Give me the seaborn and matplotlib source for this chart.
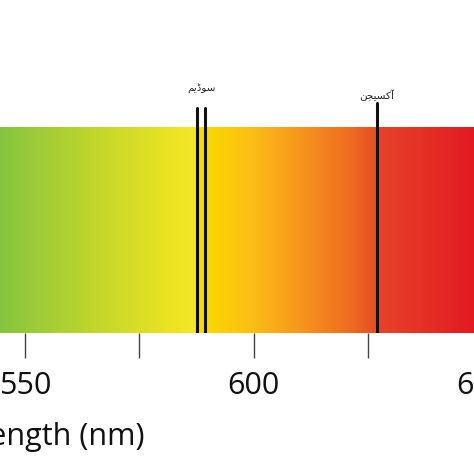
import numpy as np
import pandas as pd
import matplotlib
matplotlib.use("Agg")
import matplotlib.pyplot as plt
import matplotlib.colors as mcolors
import matplotlib.transforms as mtransforms
import seaborn as sns

# visible window of the spectrum (nm)
x_min, x_max = 544.5, 648.2

# gradient colour stops (wavelength, colour); jumps at the emission lines
stop_nm = [544.5, 566.4, 583.9, 587.6, 587.61, 589.4, 599.2, 610.1, 621.1, 627.0, 627.01, 648.2]
stop_col = ["#86c440", "#c5d72b", "#efe521", "#f2e82c", "#fbdc00", "#fcd900",
            "#fbbf14", "#f7961d", "#ef6c21", "#e54e22", "#e8432a", "#e21b22"]

# emission lines
line_nm = [587.6, 589.4, 627.0]
line_top = [1.092, 1.092, 1.117]

# labels (Urdu, written in presentation forms in visual order)
sodium_label = "\uFEE2\uFBFE\uFB88\uFEEE\uFEB3"      # سوڈیم
oxygen_label = "\uFEE6\uFEA0\uFBFF\uFEB4\uFB90\uFE81"  # آکسیجن
label_nm = [588.5, 627.0]
label_y = [1.19, 1.155]

tick_vals = [550, 575, 600, 625]
tick_labels = ["550", "", "600", ""]
edge_tick = 650  # sits just past the right edge, label is cut

sns.set_style("white")
plt.rcParams["font.family"] = ["Open Sans", "DejaVu Sans"]

fig = plt.figure(figsize=(4.74, 4.74), dpi=100)
ax = fig.add_axes([0, 141 / 474, 1, 333 / 474])

# gradient bar
wl = np.linspace(x_min, x_max, 1200)
rgb = np.array([mcolors.to_rgb(c) for c in stop_col])
img = np.stack([np.interp(wl, stop_nm, rgb[:, k]) for k in range(3)], axis=-1)[None, :, :]
ax.imshow(img, extent=[x_min, x_max, 0, 1], aspect="auto", zorder=1)

# emission lines through seaborn
rows = []
for i, (x, top) in enumerate(zip(line_nm, line_top)):
    rows.append({"wl": x, "y": 0, "line": i})
    rows.append({"wl": x, "y": top, "line": i})
df = pd.DataFrame(rows)
sns.lineplot(data=df, x="wl", y="y", units="line", estimator=None, color="#111111",
             linewidth=2.2, orient="y", ax=ax, zorder=3)

for txt, x, y in zip([sodium_label, oxygen_label], label_nm, label_y):
    ax.text(x, y, txt, ha="center", va="center", fontsize=7.5,
            family=["DejaVu Sans"], color="#222222")

ax.set_xticks(tick_vals)
ax.set_xticklabels(tick_labels)
ax.set_xlim(x_min, x_max)
ax.set_ylim(0, 1.617)
ax.set_yticks([])
ax.set_xlabel("")
ax.set_ylabel("")
ax.tick_params(axis="x", direction="out", length=18, width=1, color="#444444",
               pad=9, labelsize=22, bottom=True, labelcolor="#111111")
for s in ax.spines.values():
    s.set_visible(False)

# 650 label outside the view limits
trans = mtransforms.offset_copy(ax.get_xaxis_transform(), fig=fig, y=-27, units="points")
ax.text(edge_tick, 0, str(edge_tick), transform=trans, ha="center", va="top",
        fontsize=22, color="#111111", clip_on=False)

fig.text(145 / 474, 1 - 437 / 474, "Wavelength (nm)", ha="right", va="center",
         fontsize=22, color="#111111")

fig.savefig("out.png", dpi=100)
